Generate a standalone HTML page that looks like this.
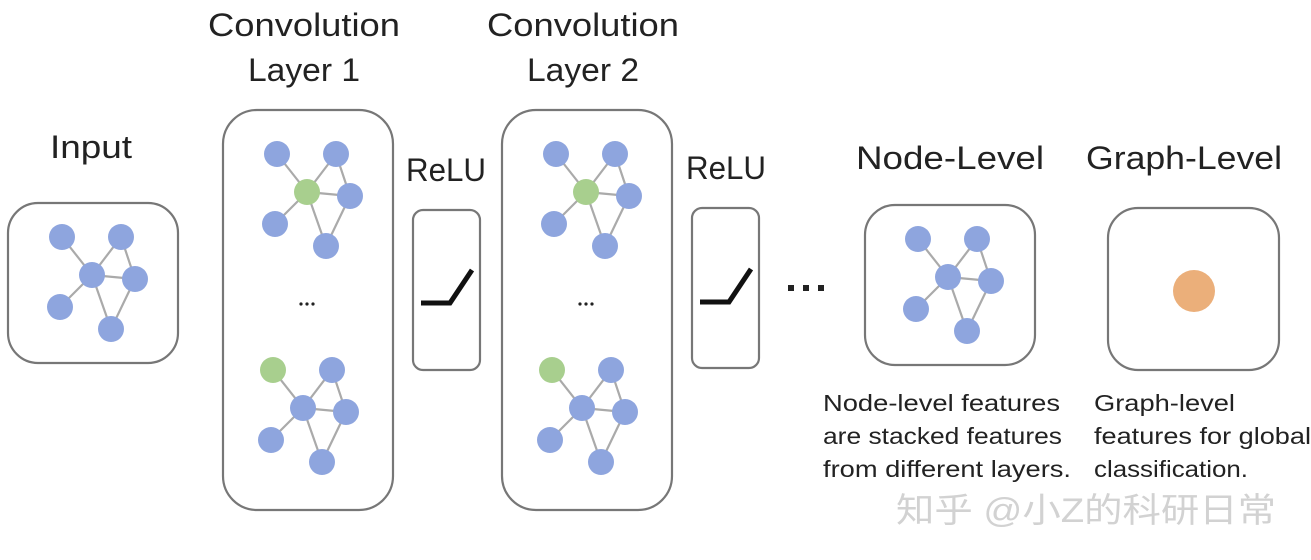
<!DOCTYPE html>
<html><head><meta charset="utf-8"><style>html,body{margin:0;padding:0;background:#fff}svg{display:block}</style></head>
<body>
<svg width="1311" height="560" viewBox="0 0 1311 560" xmlns="http://www.w3.org/2000/svg" font-family="Liberation Sans, Noto Sans CJK SC, sans-serif">
<defs>
<g id="g">
<g stroke="#aaa" stroke-width="2.2">
<line x1="-30" y1="-38" x2="0" y2="0"/><line x1="29" y1="-38" x2="0" y2="0"/><line x1="29" y1="-38" x2="43" y2="4"/>
<line x1="0" y1="0" x2="43" y2="4"/><line x1="0" y1="0" x2="-32" y2="32"/><line x1="0" y1="0" x2="19" y2="54"/><line x1="43" y1="4" x2="19" y2="54"/>
</g>
<g fill="#8EA5DE">
<circle cx="29" cy="-38" r="13"/><circle cx="43" cy="4" r="13"/><circle cx="-32" cy="32" r="13"/><circle cx="19" cy="54" r="13"/>
</g>
</g>
</defs>
<g fill="none" stroke="#777" stroke-width="2.2">
<rect x="8" y="203" width="170" height="160" rx="30"/>
<rect x="223" y="110" width="170" height="400" rx="34"/>
<rect x="413" y="210" width="67" height="160" rx="10"/>
<rect x="502" y="110" width="170" height="400" rx="34"/>
<rect x="692" y="208" width="67" height="160" rx="10"/>
<rect x="865" y="205" width="170" height="160" rx="30"/>
<rect x="1108" y="208" width="171" height="162" rx="30"/>
</g>
<!-- graphs -->
<g transform="translate(92,275)"><use href="#g"/><circle cx="-30" cy="-38" r="13" fill="#8EA5DE"/><circle r="13" fill="#8EA5DE"/></g>
<g transform="translate(948,277)"><use href="#g"/><circle cx="-30" cy="-38" r="13" fill="#8EA5DE"/><circle r="13" fill="#8EA5DE"/></g>
<g transform="translate(307,192)"><use href="#g"/><circle cx="-30" cy="-38" r="13" fill="#8EA5DE"/><circle r="13" fill="#A8CF8E"/></g>
<g transform="translate(303,408)"><use href="#g"/><circle cx="-30" cy="-38" r="13" fill="#A8CF8E"/><circle r="13" fill="#8EA5DE"/></g>
<g transform="translate(586,192)"><use href="#g"/><circle cx="-30" cy="-38" r="13" fill="#8EA5DE"/><circle r="13" fill="#A8CF8E"/></g>
<g transform="translate(582,408)"><use href="#g"/><circle cx="-30" cy="-38" r="13" fill="#A8CF8E"/><circle r="13" fill="#8EA5DE"/></g>
<circle cx="1194" cy="291" r="21" fill="#EBAF7A"/>
<!-- relu -->
<polyline points="421,303 450,303 472,270" fill="none" stroke="#111" stroke-width="5"/>
<polyline points="700,302 729,302 751,269" fill="none" stroke="#111" stroke-width="5"/>
<!-- dots -->
<g fill="#222"><circle cx="301" cy="304" r="1.6"/><circle cx="307" cy="304" r="1.6"/><circle cx="313" cy="304" r="1.6"/>
<circle cx="580" cy="304" r="1.6"/><circle cx="586" cy="304" r="1.6"/><circle cx="592" cy="304" r="1.6"/>
<rect x="788" y="285" width="6" height="6"/><rect x="803" y="285" width="6" height="6"/><rect x="818" y="285" width="6" height="6"/></g>
<!-- titles -->
<g fill="#222" font-size="32" text-anchor="middle">
<text x="304" y="36" textLength="192" lengthAdjust="spacingAndGlyphs">Convolution</text>
<text x="304" y="81" textLength="112" lengthAdjust="spacingAndGlyphs">Layer 1</text>
<text x="583" y="36" textLength="192" lengthAdjust="spacingAndGlyphs">Convolution</text>
<text x="583" y="81" textLength="112" lengthAdjust="spacingAndGlyphs">Layer 2</text>
<text x="91" y="158" textLength="82" lengthAdjust="spacingAndGlyphs">Input</text>
<text x="446" y="181" textLength="80" lengthAdjust="spacingAndGlyphs">ReLU</text>
<text x="726" y="179" textLength="80" lengthAdjust="spacingAndGlyphs">ReLU</text>
<text x="950" y="169" textLength="188" lengthAdjust="spacingAndGlyphs">Node-Level</text>
<text x="1184" y="169" textLength="196" lengthAdjust="spacingAndGlyphs">Graph-Level</text>
</g>
<g fill="#222" font-size="23">
<text x="823" y="411" textLength="237" lengthAdjust="spacingAndGlyphs">Node-level features</text>
<text x="823" y="444" textLength="239" lengthAdjust="spacingAndGlyphs">are stacked features</text>
<text x="823" y="477" textLength="248" lengthAdjust="spacingAndGlyphs">from different layers.</text>
<text x="1094" y="411" textLength="141" lengthAdjust="spacingAndGlyphs">Graph-level</text>
<text x="1094" y="444" textLength="217" lengthAdjust="spacingAndGlyphs">features for global</text>
<text x="1094" y="477" textLength="154" lengthAdjust="spacingAndGlyphs">classification.</text>
</g>
<text x="896" y="522" font-size="34" fill="#d2d2d2" textLength="380" lengthAdjust="spacingAndGlyphs" font-family="Liberation Sans, Noto Sans CJK SC, sans-serif">知乎 @小Z的科研日常</text>
</svg>
</body></html>
